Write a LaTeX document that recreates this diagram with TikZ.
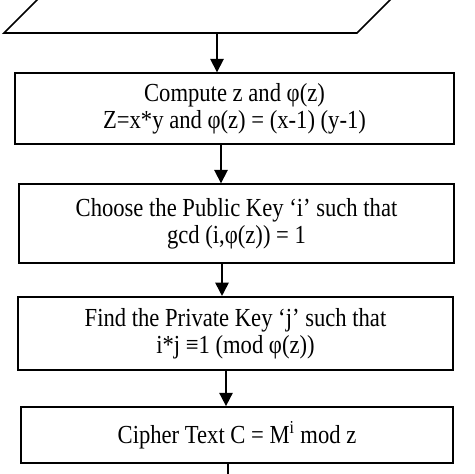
\documentclass[tikz,border=0pt]{standalone}
\usepackage{fontspec}
\setmainfont[FakeStretch=0.87]{Liberation Serif}
\usetikzlibrary{arrows.meta}

\begin{document}
\begin{tikzpicture}[
  x=0.75pt, y=-0.75pt,
  font=\fontsize{19.5}{20.5}\selectfont,
  stepbox/.style={draw, line width=1.3pt, align=center, inner sep=0pt, fill=white},
  arrow/.style={-{Triangle[width=10pt,length=10pt]}, line width=1.3pt},
  flow/.style={line width=1.3pt}
]
\useasboundingbox (0,0) rectangle (474,474);
\clip (0,0) rectangle (474,474);

% input parallelogram, cut off by the top edge
\draw[flow] (4,33) -- (64,-27) -- (417,-27) -- (357,33) -- cycle;
\coordinate (input) at (217,33);

\node[stepbox, minimum width=329pt, minimum height=53pt] (compute) at (234.5,108.5)
  {Compute z and φ(z)\\Z=x*y and φ(z) = (x-1) (y-1)};
\node[stepbox, minimum width=326pt, minimum height=59pt] (public) at (236.5,223.5)
  {Choose the Public Key ‘i’ such that\\gcd (i,φ(z)) = 1};
\node[stepbox, minimum width=326pt, minimum height=55pt] (private) at (235.5,333.5)
  {Find the Private Key ‘j’ such that\\i*j ≡1 (mod φ(z))};
\node[stepbox, minimum width=324pt, minimum height=42pt] (cipher) at (237,435)
  {Cipher Text C = M\textsuperscript{i} mod z};
\coordinate (next) at (228,490);

\draw[arrow] (input) -- (compute.north -| input);
\draw[arrow] (compute.south -| 221,0) -- (public.north -| 221,0);
\draw[arrow] (public.south -| 222,0) -- (private.north -| 222,0);
\draw[arrow] (private.south -| 226,0) -- (cipher.north -| 226,0);
\draw[flow] (cipher.south -| next) -- (next);

\end{tikzpicture}
\end{document}
